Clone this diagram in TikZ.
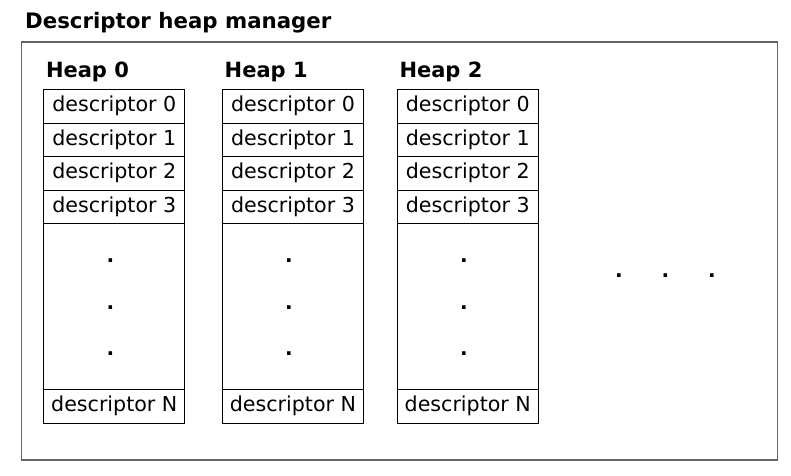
\documentclass[tikz,border=0pt]{standalone}
\usepackage{fontspec}
\setmainfont{DejaVu Sans}
\begin{document}
\begin{tikzpicture}[x=1pt,y=-1pt,
  cell/.style={draw=black, line width=1pt, minimum width=141pt, minimum height=33.5pt, inner sep=0pt, anchor=north west, font=\fontsize{20.6}{24}\selectfont},
  midcell/.style={cell, minimum height=166pt},
  heaptitle/.style={anchor=base west, inner sep=0pt, font=\fontsize{21}{24}\selectfont\bfseries},
  dotmark/.style={anchor=base, inner sep=0pt, font=\fontsize{20}{24}\selectfont\bfseries},
  outerbox/.style={draw={rgb,255:red,100;green,100;blue,100}, line width=1.8pt}
]
\useasboundingbox (0,0) rectangle (791,475);
\node[anchor=base west, inner sep=0pt, font=\fontsize{21.3}{24}\selectfont\bfseries] (title) at (25,28) {Descriptor heap manager};
\node[outerbox, anchor=north west, minimum width=756pt, minimum height=418pt, inner sep=0pt] (mgr) at (20.5,40.8) {};
\foreach \i/\x in {0/43.3, 1/222, 2/396.8} {
  \node[heaptitle] (t\i) at (\x+2.5,77) {Heap \i};
  \node[cell] (h\i d0) at (\x,89) {descriptor 0};
  \node[cell] (h\i d1) at (\x,122.5) {descriptor 1};
  \node[cell] (h\i d2) at (\x,156) {descriptor 2};
  \node[cell] (h\i d3) at (\x,189.5) {descriptor 3};
  \node[midcell] (h\i m) at (\x,223) {};
  \node[cell] (h\i dn) at (\x,389) {descriptor N};
  \node[dotmark] (h\i p1) at (\x+67,262.5) {.};
  \node[dotmark] (h\i p2) at (\x+67,309) {.};
  \node[dotmark] (h\i p3) at (\x+67,355.5) {.};
}
\node[dotmark] (r1) at (619,277.5) {.};
\node[dotmark] (r2) at (665.5,277.5) {.};
\node[dotmark] (r3) at (712,277.5) {.};
\end{tikzpicture}
\end{document}
